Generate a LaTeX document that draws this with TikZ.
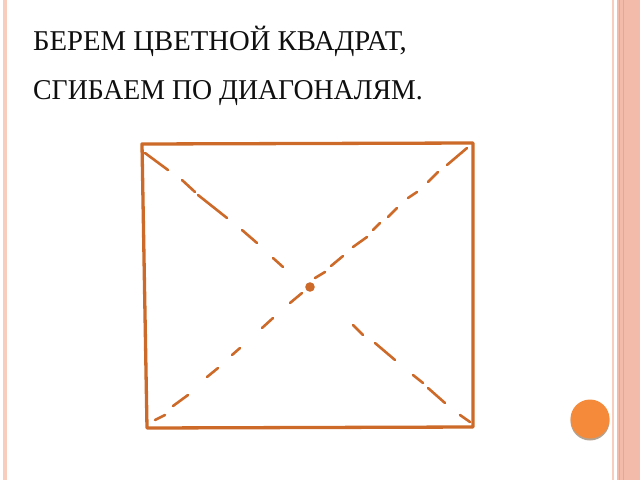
\documentclass[tikz,border=0pt]{standalone}
\usepackage{fontspec}
\setmainfont{Liberation Serif}
\definecolor{fold}{RGB}{205,106,42}
\definecolor{dotorange}{RGB}{245,139,58}
\definecolor{stripe}{RGB}{243,188,170}
\definecolor{stripedark}{RGB}{236,166,144}
\definecolor{stripelight}{RGB}{248,205,190}
\definecolor{titlecol}{RGB}{15,15,15}
\begin{document}
\begin{tikzpicture}[x=1pt,y=-1pt,
  edge/.style={draw=fold,line width=3.3pt,line join=round,line cap=round},
  crease/.style={draw=fold,line width=2.6pt,line cap=round},
  titletext/.style={anchor=base west,inner sep=0pt,text=titlecol,font=\fontsize{28.7}{34}\selectfont}]
\useasboundingbox (0,0) rectangle (640,480);
\fill[white] (0,0) rectangle (640,480);
% decorative stripes
\fill[stripelight] (3,0) rectangle (7,480);
\fill[stripelight] (612,0) rectangle (613.6,480);
\fill[stripe] (617,0) rectangle (640,480);
\draw[stripedark,line width=1pt] (619.5,0) -- (619.5,480);
\draw[stripedark,line width=1pt] (623.5,0) -- (623.5,480);
% title
\node[titletext] (t1) at (33,50.7) {БЕРЕМ ЦВЕТНОЙ КВАДРАТ,};
\node[titletext,xscale=0.968] (t2) at (33,99) {СГИБАЕМ ПО ДИАГОНАЛЯМ.};
% square
\coordinate (tl) at (142,144);
\coordinate (tr) at (473,143);
\coordinate (br) at (473,427);
\coordinate (bl) at (147,428);
\coordinate (c) at (310,287);
\path[edge] (tl) -- (tr) -- (br) -- (bl) -- cycle;
% diagonal TL-BR
\foreach \a/\b/\cc/\d in {145/153/168/170, 182/180/195/192, 198/195/227/218, 242/230/257/243, 273/258/283/267, 353/325/363/335, 375/343/395/360, 413/375/423/383, 428/388/445/403, 460/415/470/422}
  \draw[crease] (\a,\b) -- (\cc,\d);
% diagonal BL-TR
\foreach \a/\b/\cc/\d in {155/420/165/415, 173/406/188/395, 207/377/218/368, 232/355/240/348, 262/328/273/318, 290/303/302/293, 315/278/325/272, 331/266/343/256, 353/247/367/237, 373/230/380/223, 388/217/397/208, 408/198/417/192, 428/182/438/172, 447/165/467/148}
  \draw[crease] (\a,\b) -- (\cc,\d);
\fill[fold] (c) circle (4.8);
% orange button
\fill[black!45!brown,opacity=0.5] (590,421) circle (19.5);
\fill[dotorange] (590,419) circle (19.5);
\end{tikzpicture}
\end{document}
